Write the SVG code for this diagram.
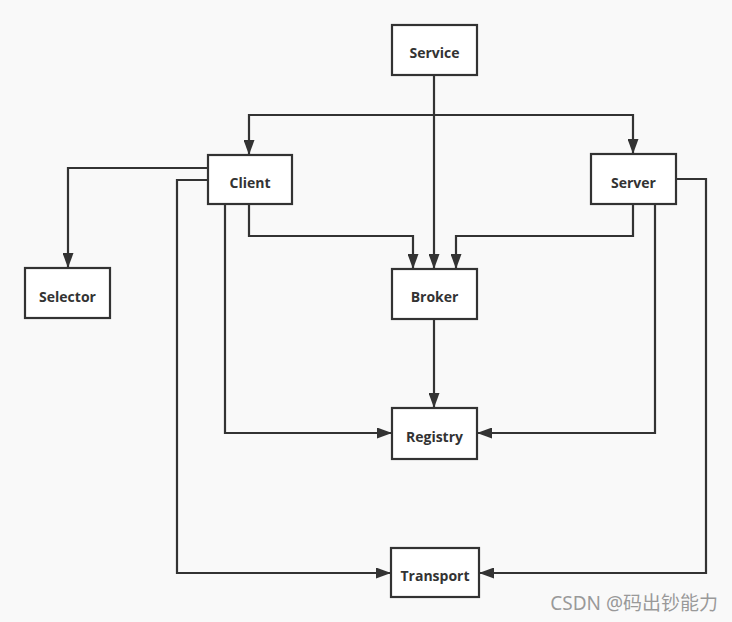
<svg xmlns="http://www.w3.org/2000/svg" width="732" height="622" viewBox="0 0 732 622">
<defs>
<style>
.box{fill:#ffffff;stroke:#333333;stroke-width:2.2}
.lbl{font-family:"Open Sans","Noto Sans","Liberation Sans",sans-serif;font-weight:bold;font-size:14px;fill:#333333;text-anchor:middle;dominant-baseline:central}
.c{fill:none;stroke:#333333;stroke-width:2.2;marker-end:url(#ah)}
</style>
<marker id="ah" viewBox="0 0 15 11" refX="15" refY="5.5" markerWidth="15" markerHeight="11" markerUnits="userSpaceOnUse" orient="auto">
<path d="M0,0 L15,5.5 L0,11 Z" fill="#333333"/>
</marker>
</defs>
<rect width="732" height="622" fill="#f9f9f9"/>
<g id="connectors">
<path class="c" d="M434,75 V269"/>
<path class="c" d="M434,115 H249 V155"/>
<path class="c" d="M434,115 H633 V154"/>
<path class="c" d="M208,168 H68 V268"/>
<path class="c" d="M208,180 H177 V573 H391"/>
<path class="c" d="M249,204 V236 H413 V269"/>
<path class="c" d="M225,204 V433 H392"/>
<path class="c" d="M633,204 V236 H456 V269"/>
<path class="c" d="M655,204 V433 H477"/>
<path class="c" d="M676,179 H706 V573 H479"/>
<path class="c" d="M434,319 V408"/>
</g>
<g id="service"><rect class="box" x="392" y="25" width="85" height="50"/><text class="lbl" x="434.5" y="52">Service</text></g>
<g id="client"><rect class="box" x="208" y="155" width="84" height="49"/><text class="lbl" x="250" y="182">Client</text></g>
<g id="server"><rect class="box" x="591" y="154" width="85" height="50"/><text class="lbl" x="633.5" y="182">Server</text></g>
<g id="selector"><rect class="box" x="25" y="268" width="85" height="50"/><text class="lbl" x="67.5" y="296">Selector</text></g>
<g id="broker"><rect class="box" x="392" y="269" width="85" height="50"/><text class="lbl" x="434.5" y="296">Broker</text></g>
<g id="registry"><rect class="box" x="392" y="408" width="85" height="51"/><text class="lbl" x="434.5" y="436">Registry</text></g>
<g id="transport"><rect class="box" x="391" y="548" width="88" height="49"/><text class="lbl" x="435" y="575">Transport</text></g>
<text x="718" y="610" text-anchor="end" font-family="'Noto Sans','Noto Sans CJK SC',sans-serif" font-size="19" fill="#999999">CSDN @码出钞能力</text>
</svg>
